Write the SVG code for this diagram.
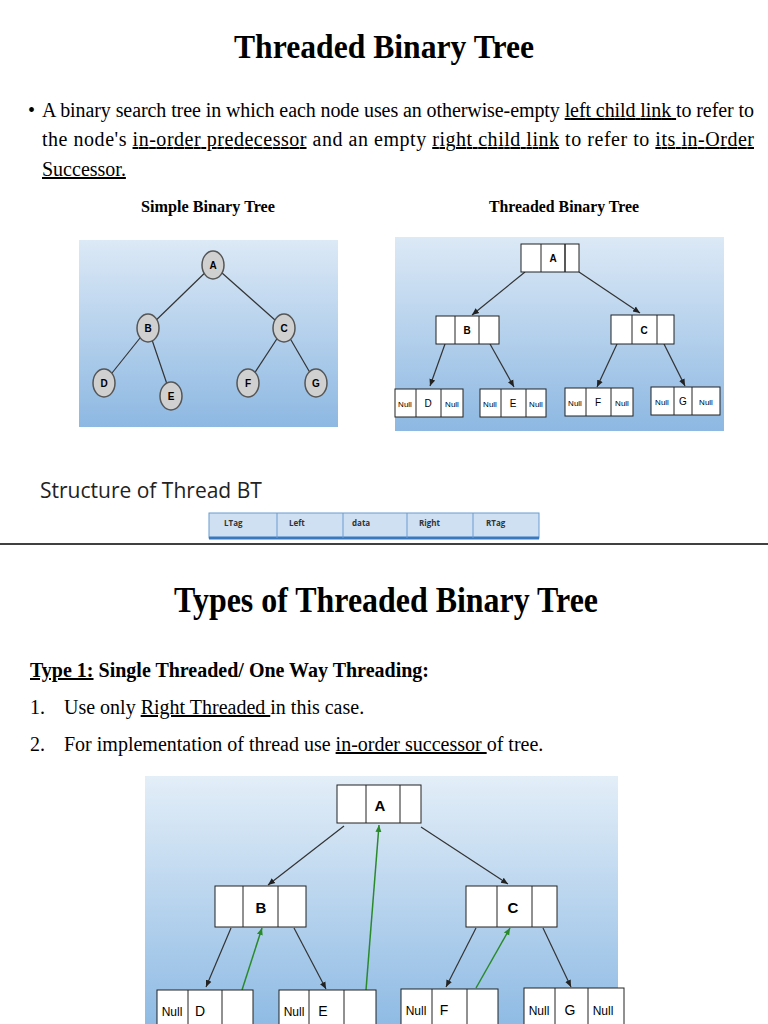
<svg xmlns="http://www.w3.org/2000/svg" width="768" height="1024" viewBox="0 0 768 1024">
<defs>
<linearGradient id="bg" x1="0" y1="0" x2="0" y2="1"><stop offset="0" stop-color="#dce9f6"/><stop offset="1" stop-color="#8db8e2"/></linearGradient>
<linearGradient id="bg2" x1="0" y1="0" x2="0" y2="1"><stop offset="0" stop-color="#e3eef8"/><stop offset="1" stop-color="#8fbbe4"/></linearGradient>
<marker id="ah" markerWidth="8" markerHeight="8" refX="7" refY="4" orient="auto" markerUnits="userSpaceOnUse"><path d="M0,1 L7,4 L0,7 z" fill="#222"/></marker>
<marker id="ag" markerWidth="8" markerHeight="8" refX="7" refY="4" orient="auto" markerUnits="userSpaceOnUse"><path d="M0,1 L7,4 L0,7 z" fill="#2a8a2a"/></marker>
</defs>
<style>
.ser{font-family:"Liberation Serif",serif;fill:#000}
.t{font-family:"Liberation Serif",serif;font-weight:bold;text-anchor:middle}
.body{font-family:"Liberation Serif",serif;font-size:20px}
.c{fill:#d0d0d0;stroke:#555;stroke-width:1.5}
.cl{font-family:"Liberation Sans",sans-serif;font-size:10px;font-weight:bold;text-anchor:middle}
.box{fill:#fff;stroke:#222;stroke-width:1}
.bl{font-family:"Liberation Sans",sans-serif;font-weight:bold;text-anchor:middle}
.nl{font-family:"Liberation Sans",sans-serif;text-anchor:middle}
.e{stroke:#333;stroke-width:1.2;fill:none;marker-end:url(#ah)}
.g{stroke:#2a8a2a;stroke-width:1.5;fill:none;marker-end:url(#ag)}
</style>
<rect width="768" height="1024" fill="#fff"/>
<text class="t" x="384" y="58" font-size="34" textLength="300" lengthAdjust="spacingAndGlyphs">Threaded Binary Tree</text>
<g class="body">
<text x="28" y="117">•</text>
<text x="42" y="117" textLength="712" lengthAdjust="spacing">A binary search tree in which each node uses an otherwise-empty <tspan text-decoration="underline">left child link </tspan>to refer to</text>
<text x="42" y="146" textLength="712" lengthAdjust="spacing">the node's <tspan text-decoration="underline">in-order predecessor</tspan> and an empty <tspan text-decoration="underline">right child link</tspan> to refer to <tspan text-decoration="underline">its in-Order</tspan></text>
<text x="42" y="176" text-decoration="underline">Successor.</text>
</g>
<text class="t" x="208" y="212" font-size="17" textLength="134" lengthAdjust="spacingAndGlyphs">Simple Binary Tree</text>
<text class="t" x="564" y="212" font-size="17" textLength="150" lengthAdjust="spacingAndGlyphs">Threaded Binary Tree</text>

<g id="simple-tree">
<rect x="79" y="240" width="259" height="187" fill="url(#bg)"/>
<g stroke="#333" stroke-width="1.2">
<line x1="213" y1="265" x2="148" y2="328"/><line x1="213" y1="265" x2="284" y2="328"/>
<line x1="148" y1="328" x2="104" y2="383"/><line x1="148" y1="328" x2="171" y2="396"/>
<line x1="284" y1="328" x2="248" y2="383"/><line x1="284" y1="328" x2="316" y2="383"/>
</g>
<g id="sA"><ellipse class="c" cx="213" cy="265" rx="11" ry="14"/><text class="cl" x="213" y="269">A</text></g>
<g id="sB"><ellipse class="c" cx="148" cy="328" rx="11" ry="14"/><text class="cl" x="148" y="332">B</text></g>
<g id="sC"><ellipse class="c" cx="284" cy="328" rx="11" ry="14"/><text class="cl" x="284" y="332">C</text></g>
<g id="sD"><ellipse class="c" cx="104" cy="383" rx="11" ry="14"/><text class="cl" x="104" y="387">D</text></g>
<g id="sE"><ellipse class="c" cx="171" cy="396" rx="11" ry="14"/><text class="cl" x="171" y="400">E</text></g>
<g id="sF"><ellipse class="c" cx="248" cy="383" rx="11" ry="14"/><text class="cl" x="248" y="387">F</text></g>
<g id="sG"><ellipse class="c" cx="316" cy="383" rx="11" ry="14"/><text class="cl" x="316" y="387">G</text></g>
</g>

<g id="threaded-tree">
<rect x="395" y="237" width="329" height="194" fill="url(#bg)"/>
<g id="connectors-top">
<line class="e" x1="525" y1="272" x2="472" y2="315"/>
<line class="e" x1="579" y1="272" x2="640" y2="313"/>
<line class="e" x1="445" y1="344" x2="430" y2="386"/>
<line class="e" x1="490" y1="344" x2="514" y2="387"/>
<line class="e" x1="617" y1="344" x2="597" y2="387"/>
<line class="e" x1="664" y1="344" x2="685" y2="386"/>
</g>
<g id="tA"><rect class="box" x="521" y="244" width="58" height="28"/><line x1="541" y1="244" x2="541" y2="272" stroke="#222"/><line x1="565" y1="244" x2="565" y2="272" stroke="#222" stroke-width="1.5"/><text class="bl" x="553" y="262" font-size="10">A</text></g>
<g id="tB"><rect class="box" x="436" y="316" width="63" height="28"/><line x1="455" y1="316" x2="455" y2="344" stroke="#222"/><line x1="479" y1="316" x2="479" y2="344" stroke="#222"/><text class="bl" x="467" y="334" font-size="10">B</text></g>
<g id="tC"><rect class="box" x="611" y="315" width="63" height="29"/><line x1="632" y1="315" x2="632" y2="344" stroke="#222"/><line x1="657" y1="315" x2="657" y2="344" stroke="#222"/><text class="bl" x="644" y="334" font-size="10">C</text></g>
<g id="tD"><rect class="box" x="395" y="389" width="68" height="28"/><line x1="416" y1="389" x2="416" y2="417" stroke="#222"/><line x1="441" y1="389" x2="441" y2="417" stroke="#222"/><text class="nl" x="405" y="407" font-size="8">Null</text><text class="nl" x="428" y="407" font-size="10">D</text><text class="nl" x="452" y="407" font-size="8">Null</text></g>
<g id="tE"><rect class="box" x="480" y="389" width="66" height="28"/><line x1="501" y1="389" x2="501" y2="417" stroke="#222"/><line x1="526" y1="389" x2="526" y2="417" stroke="#222"/><text class="nl" x="490" y="407" font-size="8">Null</text><text class="nl" x="513" y="407" font-size="10">E</text><text class="nl" x="536" y="407" font-size="8">Null</text></g>
<g id="tF"><rect class="box" x="565" y="388" width="68" height="28"/><line x1="586" y1="388" x2="586" y2="416" stroke="#222"/><line x1="611" y1="388" x2="611" y2="416" stroke="#222"/><text class="nl" x="575" y="406" font-size="8">Null</text><text class="nl" x="598" y="406" font-size="10">F</text><text class="nl" x="622" y="406" font-size="8">Null</text></g>
<g id="tG"><rect class="box" x="651" y="387" width="69" height="28"/><line x1="674" y1="387" x2="674" y2="415" stroke="#222"/><line x1="692" y1="387" x2="692" y2="415" stroke="#222"/><text class="nl" x="662" y="405" font-size="8">Null</text><text class="nl" x="683" y="405" font-size="10">G</text><text class="nl" x="706" y="405" font-size="8">Null</text></g>
</g>

<text x="40" y="498" font-family="Open Sans, sans-serif" font-size="21" fill="#222">Structure of Thread BT</text>
<g id="structure">
<rect x="209" y="513" width="330" height="25" fill="#cfe0f3" stroke="#6a9bd0"/>
<line x1="209" y1="538" x2="539" y2="538" stroke="#3a78c0" stroke-width="3"/>
<g stroke="#6a9bd0"><line x1="277" y1="513" x2="277" y2="538"/><line x1="343" y1="513" x2="343" y2="538"/><line x1="407" y1="513" x2="407" y2="538"/><line x1="473" y1="513" x2="473" y2="538"/></g>
<g font-family="Open Sans, sans-serif" font-size="8" font-weight="bold" fill="#333">
<text x="224" y="526">LTag</text><text x="289" y="526">Left</text><text x="352" y="526">data</text><text x="419" y="526">Right</text><text x="486" y="526">RTag</text>
</g>
</g>
<line x1="0" y1="544" x2="768" y2="544" stroke="#000" stroke-width="1.5"/>

<text class="t" x="386" y="612" font-size="36" textLength="424" lengthAdjust="spacingAndGlyphs">Types of Threaded Binary Tree</text>
<text class="body" x="30" y="677" font-weight="bold"><tspan text-decoration="underline">Type 1:</tspan> Single Threaded/ One Way Threading:</text>
<text class="body" x="30" y="714">1.<tspan x="64">Use only <tspan text-decoration="underline">Right Threaded </tspan>in this case.</tspan></text>
<text class="body" x="30" y="751">2.<tspan x="64">For implementation of thread use <tspan text-decoration="underline">in-order successor </tspan>of tree.</tspan></text>

<g id="type1-tree">
<rect x="145" y="776" width="473" height="248" fill="url(#bg2)"/>
<g id="connectors-bottom">
<line class="e" x1="344" y1="826" x2="268" y2="885"/>
<line class="e" x1="421" y1="827" x2="508" y2="884"/>
<line class="e" x1="231" y1="928" x2="206" y2="987"/>
<line class="e" x1="294" y1="928" x2="326" y2="989"/>
<line class="e" x1="476" y1="928" x2="446" y2="987"/>
<line class="e" x1="543" y1="928" x2="571" y2="987"/>
<line class="g" x1="242" y1="990" x2="262" y2="928"/>
<line class="g" x1="366" y1="990" x2="379" y2="825"/>
<line class="g" x1="476" y1="988" x2="510" y2="928"/>
</g>
<g id="bA"><rect class="box" x="337" y="785" width="84" height="38"/><line x1="366" y1="785" x2="366" y2="823" stroke="#222"/><line x1="400" y1="785" x2="400" y2="823" stroke="#222"/><text class="bl" x="380" y="811" font-size="15">A</text></g>
<g id="bB"><rect class="box" x="215" y="886" width="91" height="41"/><line x1="243" y1="886" x2="243" y2="927" stroke="#222"/><line x1="278" y1="886" x2="278" y2="927" stroke="#222"/><text class="bl" x="261" y="913" font-size="15">B</text></g>
<g id="bC"><rect class="box" x="466" y="886" width="91" height="41"/><line x1="497" y1="886" x2="497" y2="927" stroke="#222"/><line x1="532" y1="886" x2="532" y2="927" stroke="#222"/><text class="bl" x="513" y="913" font-size="15">C</text></g>
<g id="bD"><rect class="box" x="157" y="990" width="96" height="40"/><line x1="188" y1="990" x2="188" y2="1030" stroke="#222"/><line x1="222" y1="990" x2="222" y2="1030" stroke="#222"/><text class="nl" x="172" y="1016" font-size="12">Null</text><text class="nl" x="200" y="1016" font-size="14">D</text></g>
<g id="bE"><rect class="box" x="279" y="990" width="97" height="40"/><line x1="309" y1="990" x2="309" y2="1030" stroke="#222"/><line x1="344" y1="990" x2="344" y2="1030" stroke="#222"/><text class="nl" x="294" y="1016" font-size="12">Null</text><text class="nl" x="323" y="1016" font-size="14">E</text></g>
<g id="bF"><rect class="box" x="401" y="989" width="97" height="40"/><line x1="432" y1="989" x2="432" y2="1029" stroke="#222"/><line x1="467" y1="989" x2="467" y2="1029" stroke="#222"/><text class="nl" x="416" y="1015" font-size="12">Null</text><text class="nl" x="444" y="1015" font-size="14">F</text></g>
<g id="bG"><rect class="box" x="524" y="988" width="100" height="40"/><line x1="555" y1="988" x2="555" y2="1028" stroke="#222"/><line x1="588" y1="988" x2="588" y2="1028" stroke="#222"/><text class="nl" x="539" y="1015" font-size="12">Null</text><text class="nl" x="570" y="1015" font-size="14">G</text><text class="nl" x="603" y="1015" font-size="12">Null</text></g>
</g>
</svg>
